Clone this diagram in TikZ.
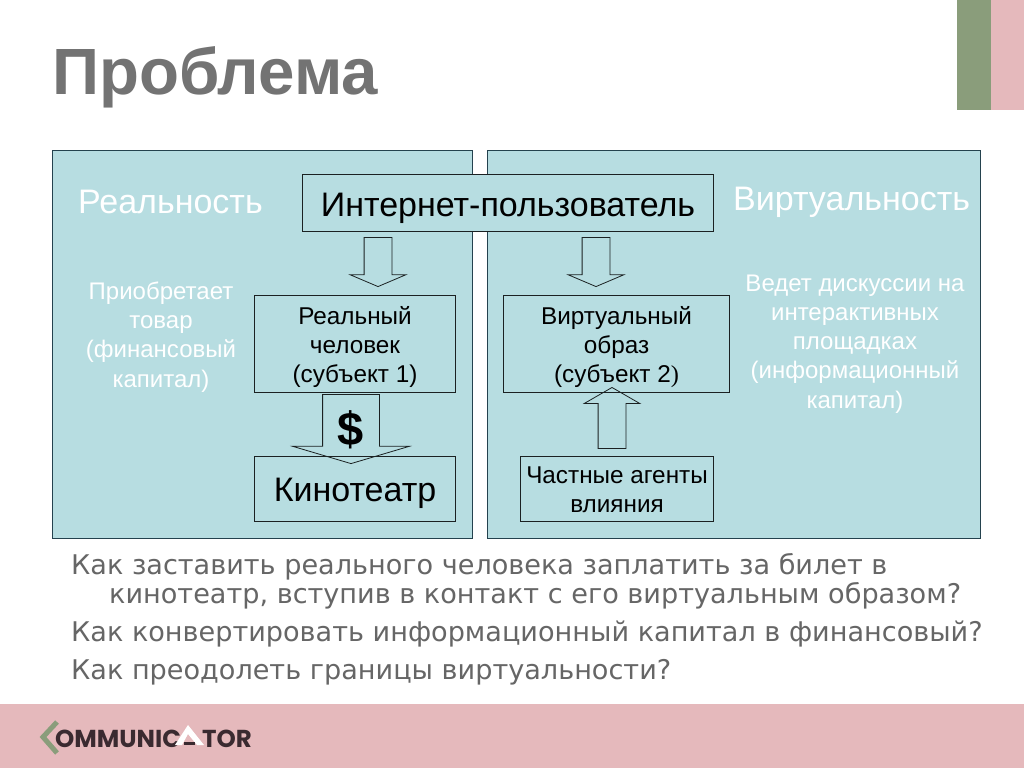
\documentclass[tikz,border=0pt]{standalone}
\usepackage{fontspec}
\setmainfont{Liberation Sans}
\newfontfamily\bodyfont{DejaVu Sans}
\newfontfamily\logofont{Poppins}
\newfontfamily\parenfont{Liberation Serif}
\usetikzlibrary{shapes.arrows, positioning}
\definecolor{panelblue}{HTML}{B7DDE1}
\definecolor{panelline}{HTML}{24424E}
\definecolor{stripegreen}{HTML}{8A9D7B}
\definecolor{stripepink}{HTML}{E5B9BC}
\definecolor{titlegray}{HTML}{737373}
\definecolor{bodygray}{HTML}{666666}
\definecolor{logodark}{HTML}{3A2A30}
\newcommand{\firstline}[1]{\rule{0pt}{#1pt}}
\tikzset{
  panel/.style={draw=panelline,fill=panelblue,line width=.8pt,anchor=north west,inner sep=0pt},
  boxnode/.style={draw=black!85!panelblue,line width=1pt,align=center,inner sep=0pt,text=black,font=\fontsize{24.3}{29}\selectfont},
  bigbox/.style={boxnode,font=\fontsize{34}{38}\selectfont,text depth=0pt},
  whitenote/.style={align=center,text=white,font=\fontsize{24}{29.2}\selectfont},
  headnote/.style={anchor=base west,inner sep=0pt,text=white,font=\fontsize{34}{38}\selectfont},
  blockarrow/.style={single arrow,draw=black!85!panelblue,line width=.8pt,anchor=tip,inner sep=13.5pt,single arrow head extend=14pt},
  bodyline/.style={anchor=base west,inner sep=0pt,text=bodygray,font=\bodyfont\fontsize{27.1}{30}\selectfont},
  logotext/.style={anchor=base west,inner sep=0pt,text=logodark,font=\logofont\bfseries\fontsize{24.5}{30}\selectfont},
}
\begin{document}
\begin{tikzpicture}[x=1pt,y=-1pt]
  \useasboundingbox (0,0) rectangle (1024,768);
  \fill[white] (0,0) rectangle (1024,768);
  \fill[stripegreen] (957,0) rectangle (991,110);
  \fill[stripepink]  (991,0) rectangle (1024,110);
  \fill[stripepink]  (0,704) rectangle (1024,768);
  \node[anchor=base west,inner sep=0pt,text=titlegray,font=\bfseries\fontsize{65.4}{70}\selectfont] (title) at (52,94) {Проблема};

  \node[panel,minimum width=419.5pt,minimum height=388pt] (left)  at (52,150)  {};
  \node[panel,minimum width=492.5pt,minimum height=388pt] (right) at (487,150) {};

  \node[headnote] (real) at (78,213) {Реальность};
  \node[headnote] (virt) at (733,210) {Виртуальность};
  \node[whitenote] (buy)  at (161,337) {Приобретает\\товар\\(финансовый\\капитал)};
  \node[whitenote] (talk) at (855,344) {Ведет дискуссии на\\интерактивных\\площадках\\(информационный\\капитал)};

  \node[bigbox,fill=panelblue,minimum width=411.5pt,minimum height=57pt,text height=27pt] (user) at (508,202.5) {Интернет-пользователь};

  \node[blockarrow,shape border rotate=270,minimum height=49pt,single arrow tip angle=134] (a1) at (378,287) {};
  \node[blockarrow,shape border rotate=270,minimum height=49pt,single arrow tip angle=134] (a2) at (596,287) {};
  \node[blockarrow,shape border rotate=270,minimum height=69pt,inner sep=28pt,single arrow head extend=30pt,single arrow tip angle=147] (a3) at (351,464) {};
  \node[blockarrow,shape border rotate=90,minimum height=61pt,single arrow tip angle=120] (a4) at (612,387) {};
  \node[font=\bfseries\fontsize{47}{50}\selectfont,text=black,inner sep=0pt] (dollar) at (351,430) {\$};

  \node[boxnode,minimum width=201.5pt,minimum height=97pt] (man)   at (355,343.5) {\firstline{26}Реальный\\человек\\(субъект 1)};
  \node[boxnode,minimum width=226.5pt,minimum height=97pt] (image) at (616.5,343.5) {\firstline{26}Виртуальный\\образ\\(субъект 2{\parenfont)}};
  \node[bigbox,minimum width=201.5pt,minimum height=65pt,text height=25pt] (cinema) at (355,488.5) {Кинотеатр};
  \node[boxnode,minimum width=193.5pt,minimum height=65pt] (agents) at (617,488.5) {\firstline{20}Частные агенты\\влияния};

  \node[bodyline] (q1) at (71,574) {Как заставить реального человека заплатить за билет в};
  \node[bodyline] (q2) at (109,603) {кинотеатр, вступив в контакт с его виртуальным образом?};
  \node[bodyline] (q3) at (71,641) {Как конвертировать информационный капитал в финансовый?};
  \node[bodyline] (q4) at (71,679) {Как преодолеть границы виртуальности?};

  \draw[stripegreen,line width=5pt] (57,722) -- (43,737) -- (57,753);
  \node[logotext] (logoa) at (55,747) {OMMUNIC};
  \node[logotext] (logob) at (202,747) {TOR};
  \fill[white] (175,745) -- (188,725) -- (204,745) -- (197,745) -- (188,734) -- (182,745) -- cycle;
  \fill[logodark] (184,742) rectangle (195,745);
\end{tikzpicture}
\end{document}
